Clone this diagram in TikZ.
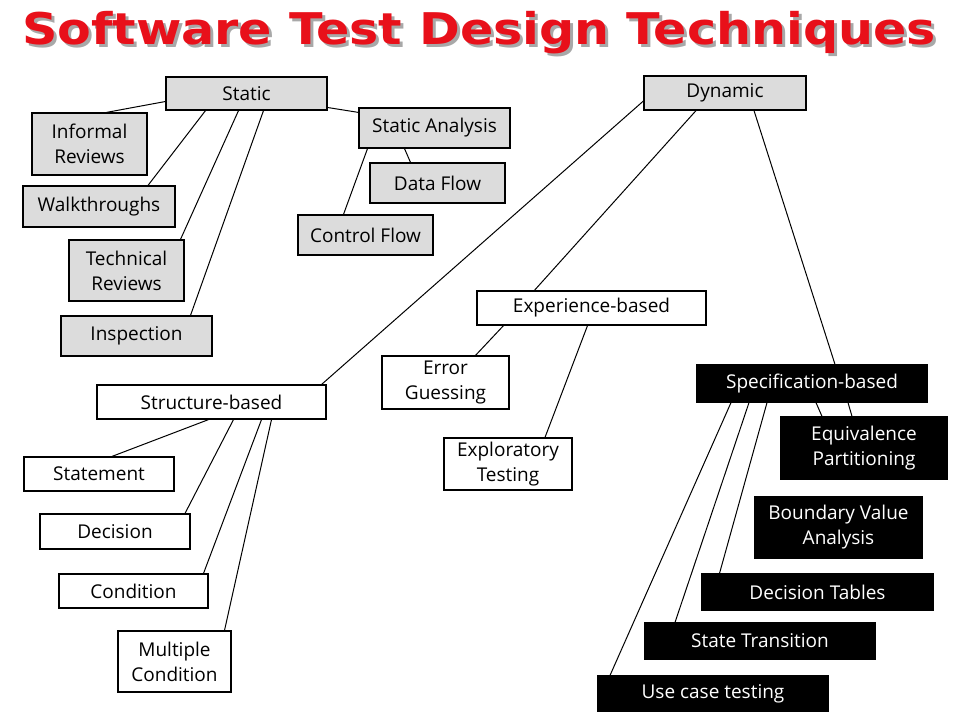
\documentclass[tikz,border=0pt]{standalone}
\usepackage{fontspec}
\setmainfont{Open Sans}
\newfontfamily\titlefont{DejaVu Sans}
\usepackage{tikz}
\usetikzlibrary{backgrounds}
\definecolor{boxgray}{HTML}{DCDCDC}
\definecolor{titlered}{HTML}{E8101A}
\definecolor{shade}{HTML}{A8A8A8}

\newcommand{\titletext}{\scalebox{1.17}[1.04]{Software Test Design Techniques}}

\begin{document}
\begin{tikzpicture}[
  x=1pt, y=-1pt,
  grey/.style={rectangle, draw=black, fill=boxgray, line width=1.2pt, align=center,
    inner sep=0pt, font=\fontsize{19}{25}\selectfont},
  plain/.style={grey, fill=white},
  dark/.style={grey, fill=black, text=white},
  link/.style={draw=black, line width=1pt},
  headline/.style={anchor=base, inner sep=0pt, font=\titlefont\bfseries\fontsize{42}{50}\selectfont}
]
\useasboundingbox (0,0) rectangle (960,720);

% title
\node[headline, text=shade] (titleshadow) at (482,47) {\titletext};
\node[headline, text=titlered] (title) at (479,44) {\titletext};

% static side
\node[grey, minimum width=161, minimum height=33] (static) at (246.5,93.5) {Static};
\node[grey, minimum width=115, minimum height=62] (informal) at (89.5,144) {Informal\\Reviews};
\node[grey, minimum width=152, minimum height=41] (walk) at (99,206.5) {Walkthroughs};
\node[grey, minimum width=115, minimum height=61] (tech) at (126.5,270.5) {Technical\\Reviews};
\node[grey, minimum width=151, minimum height=40] (insp) at (136.5,336) {Inspection};
\node[grey, minimum width=151, minimum height=40] (sana) at (434.5,128) {Static Analysis};
\node[grey, minimum width=135, minimum height=40] (dflow) at (437.5,183) {Data Flow};
\node[grey, minimum width=135, minimum height=40] (cflow) at (365.5,235) {Control Flow};

% dynamic side
\node[grey, minimum width=162, minimum height=34] (dynamic) at (725,93) {Dynamic};
\node[plain, minimum width=229, minimum height=34] (exp) at (591.5,308) {Experience-based};
\node[plain, minimum width=127, minimum height=53] (err) at (445.5,382.5) {Error\\Guessing};
\node[plain, minimum width=128, minimum height=52] (expl) at (508,464) {Exploratory\\Testing};
\node[plain, minimum width=229, minimum height=34] (struct) at (211.5,402) {Structure-based};
\node[plain, minimum width=150, minimum height=34] (stmt) at (99,474) {Statement};
\node[plain, minimum width=150, minimum height=35] (dec) at (115,531.5) {Decision};
\node[plain, minimum width=149, minimum height=34] (cond) at (133.5,591) {Condition};
\node[plain, minimum width=113, minimum height=61] (mult) at (174.5,661.5) {Multiple\\Condition};
\node[dark, minimum width=230, minimum height=37] (spec) at (812,383.5) {Specification-based};
\node[dark, minimum width=166, minimum height=62] (equiv) at (864,448) {Equivalence\\Partitioning};
\node[dark, minimum width=167, minimum height=61] (bva) at (838.5,527.5) {Boundary Value\\Analysis};
\node[dark, minimum width=231, minimum height=36] (dtab) at (817.5,592) {Decision Tables};
\node[dark, minimum width=230, minimum height=36] (state) at (760,641) {State Transition};
\node[dark, minimum width=230, minimum height=35] (usecase) at (713,693.5) {Use case testing};

\begin{scope}[on background layer]
\draw[link] ([yshift=-8]static.west) -- ([xshift=17]informal.north);
\draw[link] ([xshift=-41]static.south) -- ([xshift=49]walk.north);
\draw[link] ([xshift=-8]static.south) -- ([xshift=54]tech.north);
\draw[link] ([xshift=17]static.south) -- ([xshift=54]insp.north);
\draw[link] ([yshift=-14]static.east) -- ([yshift=-5]sana.north west);
\draw[link] ([xshift=-30]sana.south) -- ([xshift=-27]dflow.north);
\draw[link] ([xshift=-67]sana.south) -- ([xshift=-22]cflow.north);

\draw[link] ([yshift=-8]dynamic.west) -- ([xshift=-5]struct.north east);
\draw[link] ([xshift=-29]dynamic.south) -- ([xshift=58]exp.north west);
\draw[link] ([xshift=29]dynamic.south) -- ([xshift=23]spec.north);
\draw[link] ([xshift=-88]exp.south) -- ([xshift=30]err.north);
\draw[link] ([xshift=-4]exp.south) -- ([xshift=37]expl.north);

\draw[link] ([xshift=-3]struct.south) -- ([xshift=13]stmt.north);
\draw[link] ([xshift=22]struct.south) -- ([xshift=70]dec.north);
\draw[link] ([xshift=50]struct.south) -- ([xshift=70]cond.north);
\draw[link] ([xshift=60]struct.south) -- ([xshift=50]mult.north);

\draw[link] ([xshift=-81]spec.south) -- ([xshift=-103]usecase.north);
\draw[link] ([xshift=-63]spec.south) -- ([xshift=-85]state.north);
\draw[link] ([xshift=-45]spec.south) -- ([xshift=-98]dtab.north);
\draw[link] ([xshift=4]spec.south) -- ([xshift=-42]equiv.north);
\draw[link] ([xshift=36]spec.south) -- ([xshift=-12]equiv.north);
\end{scope}
\end{tikzpicture}
\end{document}
